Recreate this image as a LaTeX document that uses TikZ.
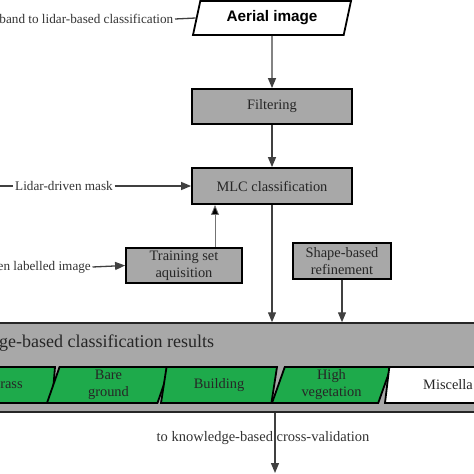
\documentclass[tikz,border=0pt]{standalone}
\usepackage{fontspec}
\setmainfont{Liberation Serif}
\setsansfont{Liberation Sans}
\usetikzlibrary{arrows.meta, shapes.geometric}
\definecolor{boxgray}{RGB}{168,168,168}
\definecolor{classgreen}{RGB}{30,170,75}

\begin{document}
\begin{tikzpicture}[
    x=1pt, y=-1pt,
    >={Triangle[length=10pt,width=8pt]},
    conn/.style={draw=black!75, line width=1.3pt},
    arr/.style={conn, ->},
    thinarr/.style={draw=black!55, line width=0.8pt, -{Triangle[length=10pt,width=8pt,fill=black]}},
    lbl/.style={font=\fontsize{13.2}{16}\selectfont, text=black!80, inner sep=1.5pt},
    procbox/.style={rectangle, draw=black, line width=1.8pt, fill=boxgray, align=center, inner sep=0pt, font=\fontsize{14.4}{17}\selectfont, text=black!85},
    inbox/.style={trapezium, trapezium left angle=63, trapezium right angle=117, trapezium stretches body=true, draw=black, line width=1.8pt, fill=white, inner sep=0pt, font=\fontsize{15.3}{18}\selectfont\sffamily\bfseries},
    classbox/.style={trapezium, trapezium left angle=67, trapezium right angle=113, trapezium stretches body=true, draw=black, line width=1.8pt, fill=classgreen, minimum height=36pt, inner sep=0pt, align=center, font=\fontsize{14.4}{17}\selectfont, text=black!85},
    resbox/.style={rectangle, draw=black!85, line width=1.5pt, fill=boxgray, minimum width=500pt, minimum height=89pt}
]
\useasboundingbox (0,0) rectangle (474,474);
\clip (0,0) rectangle (474,474);

\node [inbox, minimum width=158pt, minimum height=34pt] (aerial) at (272,18) {Aerial image};
\node [procbox, minimum width=160pt, minimum height=35pt] (filter) at (272,106.5) {Filtering};
\node [procbox, minimum width=160pt, minimum height=36pt] (mlc) at (272,186) {MLC classification};
\node [procbox, minimum width=116pt, minimum height=35pt] (train) at (184,265.5) {Training set\\aquisition};
\node [procbox, minimum width=98pt, minimum height=36pt] (shape) at (342,261) {Shape-based\\refinement};

\node [resbox] (results) at (237,367.5) {};
\node [anchor=west, inner sep=0pt, font=\fontsize{18}{20}\selectfont, text=black!85] (restitle) at (-1,343) {ge-based classification results};
\node [classbox, minimum width=87pt] (grass) at (11.5,385) {rass};
\node [classbox, minimum width=123pt] (bare) at (108.5,385) {Bare\\ground};
\node [classbox, minimum width=116pt] (building) at (219,385) {Building};
\node [classbox, minimum width=119pt] (highveg) at (331.5,385) {High\\vegetation};
\node [classbox, minimum width=126pt, fill=white] (misc) at (448,385) {Miscella};

\node [lbl, anchor=east] (addband) at (175,19) {band to lidar-based classification};
\coordinate (lidarin) at (-5,186);
\node [lbl] (lidar) at (64,186) {Lidar-driven mask};
\node [lbl, anchor=east] (labelled) at (92.5,267) {en labelled image};
\node [lbl, font=\fontsize{14.5}{17}\selectfont] (xval) at (263,438) {to knowledge-based cross-validation};
\coordinate (xvalout) at (275,473);

\draw [arr] (aerial) -- (filter);
\draw [arr] (filter) -- (mlc);
\draw [arr] (mlc.south) -- (mlc.south |- results.north);
\draw [arr] (shape.south) -- (shape.south |- results.north);
\draw [thinarr] ([xshift=31pt]train.north) -- ([xshift=31pt]train.north |- mlc.south);
\draw [conn] (addband.east) -- (aerial.west);
\draw [conn] (lidarin) -- (lidar.west);
\draw [arr] (lidar.east) -- (mlc.west);
\draw [arr] (labelled.east) -- (train.west);
\draw [arr] (results.south -| xvalout) -- (xvalout);

\end{tikzpicture}
\end{document}
